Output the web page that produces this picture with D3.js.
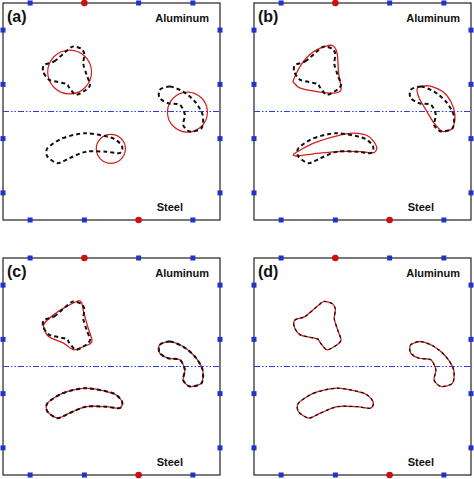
<!DOCTYPE html>
<html><head><meta charset="utf-8">
<script src="https://cdn.jsdelivr.net/npm/d3@7"></script>
<style>body{margin:0;background:#fff}</style></head>
<body><svg id="c" width="474" height="479"></svg>
<script>
const panels = ["(a)","(b)","(c)","(d)"];
const panelOrigins = [[3,3],[254,3],[3,258],[254,258]];
const markerPos = [0.125,0.375,0.625,0.875];
const targetTrefoil = [[0.19,0.285],[0.236,0.269],[0.3,0.215],[0.324,0.2],[0.36,0.21],[0.375,0.235],[0.37,0.28],[0.385,0.33],[0.401,0.377],[0.383,0.4],[0.336,0.423],[0.305,0.39],[0.29,0.372],[0.213,0.354],[0.185,0.315]];
const targetKidney = [[0.722,0.4],[0.769,0.385],[0.83,0.408],[0.884,0.454],[0.92,0.515],[0.915,0.577],[0.861,0.592],[0.83,0.562],[0.838,0.515],[0.815,0.469],[0.761,0.462],[0.722,0.438]];
const targetCrescent = [[0.205,0.669],[0.275,0.623],[0.383,0.6],[0.506,0.623],[0.549,0.662],[0.537,0.692],[0.475,0.685],[0.383,0.685],[0.306,0.715],[0.252,0.738],[0.205,0.708]];
const circlesA = [[0.307,0.318,0.101],[0.85,0.503,0.092],[0.497,0.672,0.067]];
const redB = [
 [[0.182,0.354],[0.228,0.269],[0.29,0.215],[0.359,0.195],[0.383,0.231],[0.39,0.323],[0.401,0.4],[0.367,0.415],[0.29,0.408],[0.213,0.392],[0.185,0.369]],
 [[0.753,0.392],[0.807,0.382],[0.869,0.408],[0.907,0.454],[0.926,0.515],[0.915,0.577],[0.869,0.592],[0.83,0.554],[0.792,0.492],[0.761,0.438]],
 [[0.185,0.695],[0.275,0.646],[0.383,0.612],[0.46,0.6],[0.529,0.615],[0.565,0.662],[0.552,0.69],[0.491,0.685],[0.383,0.685],[0.275,0.695],[0.198,0.705]]
];
const redCTrefoil = [[0.187,0.308],[0.233,0.262],[0.294,0.223],[0.356,0.197],[0.371,0.246],[0.39,0.315],[0.41,0.385],[0.371,0.408],[0.325,0.423],[0.279,0.392],[0.21,0.362]];
const targets=[targetTrefoil,targetKidney,targetCrescent];

const svg=d3.select("#c");
const S=217;
panels.forEach((lab,i)=>{
  const [ox,oy]=panelOrigins[i];
  const g=svg.append("g").attr("transform",`translate(${ox},${oy})`);
  const x=d3.scaleLinear().domain([0,1]).range([0,S]);
  const y=d3.scaleLinear().domain([0,1]).range([0,S]);
  const line=d3.line().x(d=>x(d[0])).y(d=>y(d[1])).curve(d3.curveCardinalClosed.tension(0.2));
  g.append("rect").attr("width",S).attr("height",S).attr("fill","none").attr("stroke","#222").attr("stroke-width",1.2);
  g.append("line").attr("x1",x(0)).attr("x2",x(1)).attr("y1",y(0.5)).attr("y2",y(0.5))
   .attr("stroke","#2a3ee0").attr("stroke-width",1.1).attr("stroke-dasharray","6,2,1.5,2,1.5,2");
  let reds;
  if(i===0){
    circlesA.forEach(c=>g.append("circle").attr("cx",x(c[0])).attr("cy",y(c[1])).attr("r",x(c[2])).attr("fill","none").attr("stroke","#d42020").attr("stroke-width",1.2));
  } else {
    reds = i===1?redB : i===2?[redCTrefoil,targetKidney,targetCrescent]:targets;
    reds.forEach(s=>g.append("path").attr("d",line(s)).attr("fill","none").attr("stroke","#d42020").attr("stroke-width",1.3));
  }
  targets.forEach(s=>g.append("path").attr("d",line(s)).attr("fill","none").attr("stroke","#111")
    .attr("stroke-width",i===3?1.3:2).attr("stroke-dasharray",i===3?"3,3":"4,3"));
  const sq=5;
  markerPos.forEach((p,j)=>{
    const redTop=j===1, redBot=j===2;
    [[x(p),y(0),redTop],[x(p),y(1),redBot],[x(0),y(p),false],[x(1),y(p),false]].forEach(([mx,my,red])=>{
      if(red) g.append("circle").attr("cx",mx).attr("cy",my).attr("r",3.3).attr("fill","#cc1111");
      else g.append("rect").attr("x",mx-sq/2).attr("y",my-sq/2).attr("width",sq).attr("height",sq).attr("fill","#2233cc");
    });
  });
  g.append("text").attr("x",4).attr("y",19).text(lab).attr("font-family","Liberation Sans, Arial").attr("font-weight","bold").attr("font-size",16).attr("fill","#111");
  g.append("text").attr("x",206).attr("y",19).attr("text-anchor","end").text("Aluminum").attr("font-family","Liberation Sans, Arial").attr("font-weight","bold").attr("font-size",11).attr("fill","#111");
  g.append("text").attr("x",180).attr("y",208).attr("text-anchor","end").text("Steel").attr("font-family","Liberation Sans, Arial").attr("font-weight","bold").attr("font-size",11).attr("fill","#111");
});
</script></body></html>
